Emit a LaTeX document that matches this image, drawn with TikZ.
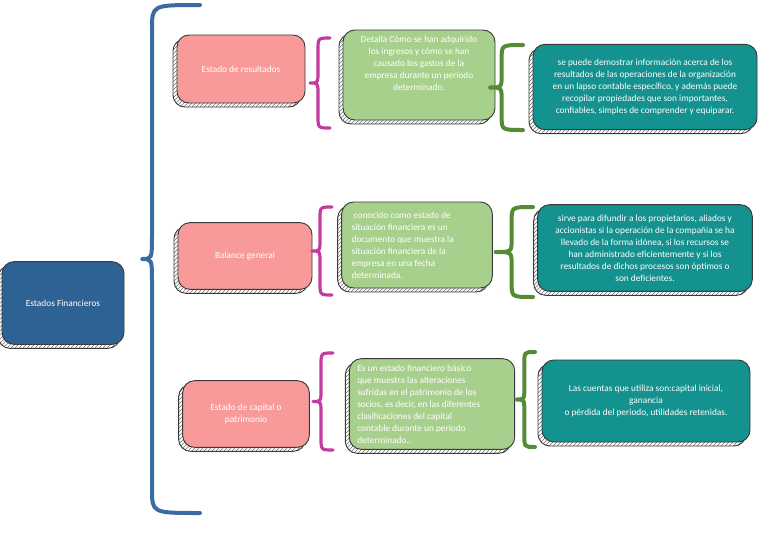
\documentclass[tikz,border=0pt]{standalone}
\usepackage{fontspec}
\setmainfont{Carlito}
\usetikzlibrary{calc, patterns, shadows}
\definecolor{finblue}{HTML}{2F6294}
\definecolor{bracebig}{HTML}{3A6CA2}
\definecolor{pinkbox}{HTML}{F99A9A}
\definecolor{greenbox}{HTML}{A8D08D}
\definecolor{tealbox}{HTML}{14928F}
\definecolor{bracepink}{HTML}{C43B9F}
\definecolor{bracegreen}{HTML}{558A37}
\definecolor{edge}{HTML}{3A3A3A}

\begin{document}
\begin{tikzpicture}[x=0.75pt, y=-0.75pt,
    box/.style={rectangle, rounded corners=9pt, draw=edge, line width=0.7pt,
                fill=#1, text=white, font=\fontsize{7}{9}\selectfont,
                inner sep=2pt, align=center,
                general shadow={shadow xshift=-3pt, shadow yshift=-3pt, draw=edge,
                                pattern=north east lines, pattern color=black!55}},
    curly/.style n args={3}{to path={let \p1=(\tikztostart), \p2=(\tikztotarget),
        \p3=($(\p1)!.5!(\p2)$) in
        .. controls (\x1-#1, \y1) .. (\x1-#1, \y1-#3)
        -- (\x1-#1, \y3+#3) .. controls (\x1-#1, \y3) .. (\x1-#2, \y3)
        .. controls (\x1-#1, \y3) .. (\x1-#1, \y3-#3)
        -- (\x1-#1, \y2+#3) .. controls (\x1-#1, \y2) .. (\p2)}},
    brace/.style={line cap=round, line join=round, line width=#1}
  ]
    \useasboundingbox (0,0) rectangle (768,543);

    % Root
    \node[box=finblue, minimum width=91.5pt, minimum height=62pt] (fin) at (63,303) {Estados Financieros};

    % Statements
    \node[box=pinkbox, minimum width=96pt,    minimum height=51pt] (res) at (241,69)  {Estado de resultados};
    \node[box=pinkbox, minimum width=100.5pt, minimum height=50pt] (bal) at (245,256) {Balance general};
    \node[box=pinkbox, minimum width=95pt,    minimum height=50pt] (cap) at (246,414) {Estado de capital o\\patrimonio};

    % Definitions
    \node[box=greenbox, minimum width=114pt, minimum height=67.5pt] (dres) at (419,75)
      {Detalla Cómo se han adquirido\\los ingresos y cómo se han\\causado los gastos de la\\empresa durante un período\\determinado.\\[9pt]};
    \node[box=greenbox, inner xsep=7.5pt, text width=98pt, minimum height=64.5pt, align=flush left] (dbal) at (417,245)
      {\ conocido como estado de\\situación financiera es un\\documento que muestra la\\situación financiera de la\\empresa en una fecha\\determinada.};
    \node[box=greenbox, inner xsep=6pt, text width=112pt, minimum height=68pt, align=flush left] (dcap) at (432,404)
      {Es un estado financiero básico\\que muestra las alteraciones\\sufridas en el patrimonio de los\\socios, es decir, en las diferentes\\clasificaciones del capital\\contable durante un periodo\\determinado..};

    % Uses
    \node[box=tealbox, minimum width=168pt, minimum height=64pt] (ures) at (645,87)
      {se puede demostrar información acerca de los\\resultados de las operaciones de la organización\\en un lapso contable específico, y además puede\\recopilar propiedades que son importantes,\\confiables, simples de comprender y equiparar.};
    \node[box=tealbox, minimum width=161pt, minimum height=65pt] (ubal) at (645,248)
      {sirve para difundir a los propietarios, aliados y\\accionistas si la operación de la compañía se ha\\llevado de la forma idónea, si los recursos se\\han administrado eficientemente y si los\\resultados de dichos procesos son óptimos o\\son deficientes.};
    \node[box=tealbox, minimum width=156pt, minimum height=61.5pt] (ucap) at (646,401)
      {Las cuentas que utiliza son:capital inicial,\\ganancia\\o pérdida del periodo, utilidades retenidas.};

    % Brace ends
    \coordinate (bigtop) at (200,5);   \coordinate (bigbot) at (200,513);
    \coordinate (p1top) at (330,38);   \coordinate (p1bot) at (330,128);
    \coordinate (p2top) at (332,207);  \coordinate (p2bot) at (332,295);
    \coordinate (p3top) at (333,353);  \coordinate (p3bot) at (333,450);
    \coordinate (g1top) at (523,45);   \coordinate (g1bot) at (523,130);
    \coordinate (g2top) at (533,207);  \coordinate (g2bot) at (533,297);
    \coordinate (g3top) at (535,352);  \coordinate (g3bot) at (535,447);

    % Braces
    \draw[brace=3pt, bracebig] (bigtop) to[curly={36pt}{43.5pt}{18pt}] (bigbot);
    \draw[brace=2.4pt, bracepink] (p1top) to[curly={9pt}{15pt}{9pt}] (p1bot);
    \draw[brace=2.4pt, bracepink] (p2top) to[curly={9pt}{15pt}{9pt}] (p2bot);
    \draw[brace=2.4pt, bracepink] (p3top) to[curly={9pt}{15pt}{9pt}] (p3bot);
    \draw[brace=3pt, bracegreen] (g1top) to[curly={16pt}{25pt}{10pt}] (g1bot);
    \draw[brace=3pt, bracegreen] (g2top) to[curly={16pt}{28pt}{10pt}] (g2bot);
    \draw[brace=3pt, bracegreen] (g3top) to[curly={8pt}{14pt}{9pt}] (g3bot);
\end{tikzpicture}
\end{document}
